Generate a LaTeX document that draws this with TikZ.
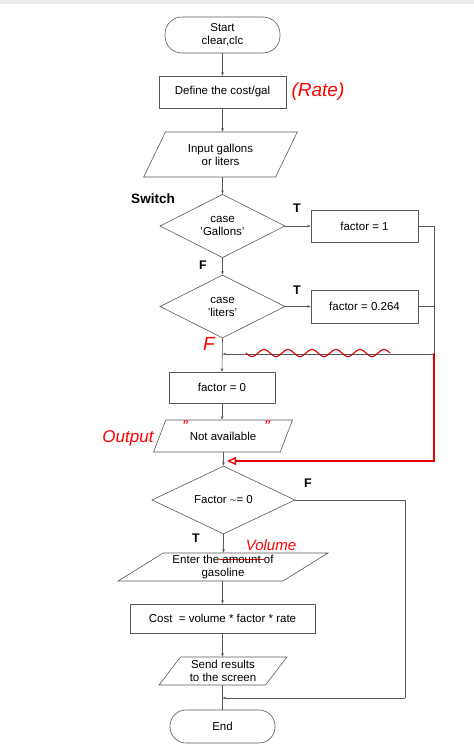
\documentclass[tikz,border=0pt]{standalone}
\usepackage{fontspec}
\setmainfont{Liberation Sans}
\usetikzlibrary{shapes.geometric,arrows.meta}
\newsavebox\strikebox
\newcommand\redstrike[1]{\sbox\strikebox{#1}\rlap{\textcolor{red}{\rule[0.55ex]{\wd\strikebox}{0.8pt}}}\usebox\strikebox}
\begin{document}
\begin{tikzpicture}[x=1pt,y=-1pt,
  every node/.style={font=\fontsize{11.5}{13}\selectfont, align=center, inner sep=1pt},
  ln/.style={draw=black!65, line width=0.6pt},
  arr/.style={ln, -{Stealth[length=3.5pt,width=2.6pt]}},
  boxs/.style={ln, rectangle, inner sep=0pt},
  dia/.style={ln, diamond, inner sep=0pt},
  io/.style={ln, trapezium, trapezium stretches=true, inner sep=0pt},
  lab/.style={font=\fontsize{12.5}{14}\selectfont\bfseries},
  hand/.style={text=red, font=\fontsize{17}{19}\selectfont\itshape},
  rd/.style={draw=red!90!black, line width=1.1pt}
]
\useasboundingbox (0,0) rectangle (474,750);
\fill[black!8] (0,0) rectangle (474,4);

% nodes
\node[draw=black!65, line width=0.6pt, rounded corners=17pt, minimum width=115pt, minimum height=36pt, inner sep=0pt] (start) at (222.5,35) {Start\\clear,clc};
\node[boxs, minimum width=127pt, minimum height=32pt] (def) at (222.5,92) {Define the cost/gal};
\node[io, trapezium left angle=59, trapezium right angle=121, minimum width=155pt, minimum height=45pt] (in) at (220.5,154.5) {Input gallons\\or liters};
\node[dia, minimum width=125pt, minimum height=62pt] (d1) at (222.5,226) {case\\'Gallons'};
\node[boxs, minimum width=107pt, minimum height=32pt] (f1) at (364.5,226) {factor = 1};
\node[dia, minimum width=125pt, minimum height=63pt] (d2) at (222.5,306.5) {case\\'liters'};
\node[boxs, minimum width=107pt, minimum height=33pt] (f2) at (364.5,306.5) {factor = 0.264};
\node[boxs, minimum width=106pt, minimum height=31pt] (f0) at (222,387.5) {factor = 0};
\node[io, trapezium left angle=50, trapezium right angle=130, minimum width=140pt, minimum height=32pt] (na) at (223,436) {Not available};
\node[dia, minimum width=143pt, minimum height=68pt] (d3) at (223.5,500) {Factor \raisebox{0.2ex}{\footnotesize$\sim$}= 0};
\node[io, trapezium left angle=32, trapezium right angle=148, minimum width=210pt, minimum height=28pt] (en) at (223,567) {Enter the\redstrike{ amount }of\\gasoline};
\node[boxs, minimum width=185pt, minimum height=29pt] (cost) at (222.5,618.5) {Cost \ = volume * factor * rate};
\node[io, trapezium left angle=52, trapezium right angle=128, minimum width=128pt, minimum height=28pt] (send) at (223,671) {Send results\\to the screen};
\node[draw=black!65, line width=0.6pt, rounded corners=16pt, minimum width=105pt, minimum height=33pt, inner sep=0pt] (end) at (222.5,726.5) {End};

% labels
\node[lab, font=\fontsize{13.5}{15}\selectfont\bfseries] (sw) at (153,199) {Switch};
\node[lab] (t1) at (297,208) {T};
\node[lab] (fl1) at (203,265) {F};
\node[lab] (t2) at (297,290) {T};
\node[lab] (fl3) at (308,483) {F};
\node[lab] (t3) at (196,538) {T};

% coordinates
\coordinate (c1) at (434,226);
\coordinate (c2) at (434,306.5);
\coordinate (j1) at (434,354);
\coordinate (m1) at (222.5,354);
\coordinate (r1) at (434,461);
\coordinate (r2) at (227,461);
\coordinate (e1) at (405,500);
\coordinate (e2) at (405,698);
\coordinate (m2) at (222.5,698);

% connectors
\draw[arr] (start) -- (def);
\draw[arr] (def) -- (def.south |- in.north);
\draw[arr] (in.south -| d1.north) -- (d1.north);
\draw[arr] (d1.east) -- (f1.west);
\draw[arr] (d1.south) -- (d2.north);
\draw[arr] (d2.east) -- (f2.west);
\draw[ln] (f1.east) -- (c1) -- (j1);
\draw[ln] (f2.east) -- (c2);
\draw[arr] (j1) -- (m1);
\fill[black!70] (c2) circle (1.1pt) (j1) circle (1.1pt);
\draw[arr] (d2.south) -- (f0.north);
\draw[arr] (f0.south) -- (f0.south |- na.north);
\draw[arr] (na.south -| d3.north) -- (d3.north);
\draw[arr] (d3.south) -- (d3.south |- en.north);
\draw[arr] (en.south -| cost.north) -- (cost.north);
\draw[arr] (cost.south) -- (cost.south |- send.north);
\draw[ln] (send.south -| end.north) -- (end.north);
\draw[ln] (d3.east) -- (e1) -- (e2);
\draw[arr] (e2) -- (m2);

% red annotations
\draw[rd, -{Triangle[open, length=9pt, width=8pt, line width=1.3pt]}] (j1) -- (r1) -- (r2);
\draw[rd, line cap=round] plot[domain=0:144, samples=120, smooth] ({246+\x}, {353+3.5*sin(\x*15)});
\node[hand, font=\fontsize{19}{21}\selectfont\itshape] (rate) at (318,92) {(Rate)};
\node[hand, font=\fontsize{19}{21}\selectfont\itshape] (rf) at (209,344) {F};
\node[hand] (outp) at (128,438) {Output};
\node[hand] (q1) at (185,427) {''};
\node[hand] (q2) at (267,427) {''};
\node[hand, font=\fontsize{15}{17}\selectfont\itshape] (vol) at (271,545) {Volume};
\end{tikzpicture}
\end{document}
